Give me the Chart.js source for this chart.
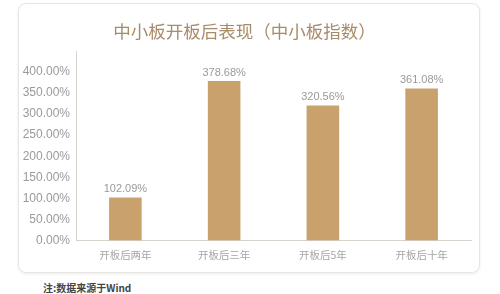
<!DOCTYPE html>
<html>
<head>
<meta charset="utf-8">
<script src="https://cdn.jsdelivr.net/npm/chart.js@4"></script>
<style>
  html, body { margin: 0; padding: 0; background: #fff; }
  body { width: 500px; height: 294px; position: relative; overflow: hidden; }
  #card {
    position: absolute; left: 18px; top: 3px; width: 460px; height: 268px;
    border: 1px solid #e8e4df; border-radius: 8px;
    box-shadow: 0 1px 3px rgba(0,0,0,0.08);
  }
  #wrap { position: absolute; left: 18px; top: 3px; width: 462px; height: 270px; }
  #note {
    position: absolute; left: 43px; top: 280px;
    font: bold 10px "Noto Sans CJK SC", "Liberation Sans", sans-serif; color: #444;
  }
</style>
</head>
<body>
<div id="card"></div>
<div id="wrap"><canvas id="chart" width="462" height="270"></canvas></div>
<div id="note">注:数据来源于Wind</div>
<script>
// veriler
const kategoriler = ['开板后两年', '开板后三年', '开板后5年', '开板后十年'];
const degerler = [102.09, 378.68, 320.56, 361.08];
const baslik = '中小板开板后表现（中小板指数）';

const FONT = '"Liberation Sans", "Noto Sans CJK SC", sans-serif';

// bar ustu etiketler
const etiketPlugin = {
  id: 'etiketler',
  afterDatasetsDraw(chart) {
    const ctx = chart.ctx;
    const meta = chart.getDatasetMeta(0);
    ctx.save();
    ctx.font = '11px ' + FONT;
    ctx.fillStyle = '#9a9a9a';
    ctx.textAlign = 'center';
    ctx.textBaseline = 'bottom';
    meta.data.forEach((bar, i) => {
      ctx.fillText(degerler[i].toFixed(2) + '%', bar.x, bar.y - 3);
    });
    ctx.restore();
  }
};

new Chart(document.getElementById('chart'), {
  type: 'bar',
  data: {
    labels: kategoriler,
    datasets: [{
      data: degerler,
      backgroundColor: '#c9a16d',
      barPercentage: 0.33,
      categoryPercentage: 1
    }]
  },
  options: {
    responsive: false,
    animation: false,
    layout: { padding: { left: 0, right: 9, top: 0, bottom: 4 } },
    plugins: {
      legend: { display: false },
      tooltip: { enabled: false },
      title: {
        display: true,
        text: baslik,
        color: '#a88b68',
        font: { size: 17.5, family: '"Noto Sans CJK SC", sans-serif', weight: 'normal' },
        padding: { top: 18, bottom: 9 }
      }
    },
    scales: {
      x: {
        grid: { display: false, drawTicks: false },
        border: { display: true, color: '#d6d2cc' },
        ticks: {
          color: '#a5a5a5',
          padding: 8,
          font: { size: 10.5, family: '"Noto Sans CJK SC", sans-serif' }
        }
      },
      y: {
        min: 0,
        max: 450,
        afterFit(scale) { scale.width = 58; },
        grid: { display: false, drawTicks: false },
        border: { display: true, color: '#d6d2cc' },
        ticks: {
          stepSize: 50,
          color: '#9a9a9a',
          padding: 6,
          font: { size: 12, family: FONT },
          callback: v => v >= 450 ? '' : v.toFixed(2) + '%'
        }
      }
    }
  },
  plugins: [etiketPlugin]
});
</script>
</body>
</html>
